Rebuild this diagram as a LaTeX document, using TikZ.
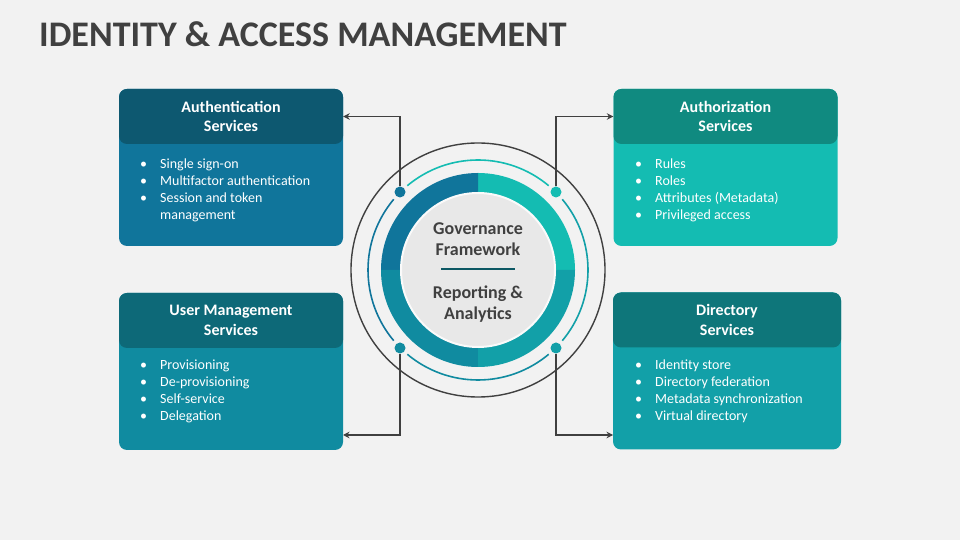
\documentclass[tikz,border=0pt]{standalone}
\usepackage{fontspec}
\setmainfont{Carlito}
\usetikzlibrary{arrows.meta,positioning,calc}

\definecolor{bgcol}{RGB}{242,242,242}
\definecolor{ink}{RGB}{64,64,64}
\definecolor{authHead}{RGB}{13,88,112}
\definecolor{authBody}{RGB}{16,117,155}
\definecolor{azHead}{RGB}{16,138,128}
\definecolor{azBody}{RGB}{20,188,178}
\definecolor{umHead}{RGB}{13,105,120}
\definecolor{umBody}{RGB}{16,139,160}
\definecolor{dirHead}{RGB}{14,118,122}
\definecolor{dirBody}{RGB}{18,160,168}
\definecolor{diskcol}{RGB}{232,232,232}
\definecolor{rulecol}{RGB}{13,88,100}

\tikzset{
  panel/.style={rounded corners=8pt, minimum width=224pt, minimum height=157pt, inner sep=0pt},
  panelhead/.style={rounded corners=8pt, minimum width=224pt, minimum height=55pt, inner sep=0pt,
    text=white, align=center, font=\fontsize{16}{19.5}\selectfont\bfseries},
  items/.style={anchor=north west, text=white, inner sep=0pt, align=left,
    font=\fontsize{14}{17}\selectfont},
  conn/.style={draw=ink, line width=1.6pt, -{Stealth[length=6.5pt,width=6.5pt]}},
  dot/.style={circle, inner sep=0pt, minimum size=11pt},
  thinarc/.style={line width=1.6pt},
  hubtext/.style={text=ink, align=center, font=\fontsize{18}{20.5}\selectfont\bfseries},
}
\newcommand{\bulletlist}[1]{\begin{tabular}{@{}p{20pt}@{}l@{}}#1\end{tabular}}

\begin{document}
\begin{tikzpicture}[x=1pt,y=1pt]
  \useasboundingbox[fill=bgcol] (0,0) rectangle (960,540);

  % title
  \node[anchor=west, text=ink, font=\fontsize{36}{40}\selectfont\bfseries, inner sep=0pt]
    (title) at (39,506) {IDENTITY \& ACCESS MANAGEMENT};

  % panels
  \node[panel, fill=authBody] (auth) at (231,372.5) {};
  \node[panelhead, fill=authHead, below=0pt of auth.north] (authH) {Authentication\\Services};
  \node[items] (authL) at (140,384) {\bulletlist{%
    \textbullet & Single sign-on\\
    \textbullet & Multifactor authentication\\
    \textbullet & Session and token\\
                & management}};

  \node[panel, fill=azBody] (az) at (725.5,372.5) {};
  \node[panelhead, fill=azHead, below=0pt of az.north] (azH) {Authorization\\Services};
  \node[items] (azL) at (635,384) {\bulletlist{%
    \textbullet & Rules\\
    \textbullet & Roles\\
    \textbullet & Attributes (Metadata)\\
    \textbullet & Privileged access}};

  \node[panel, fill=umBody] (um) at (231,168.5) {};
  \node[panelhead, fill=umHead, below=0pt of um.north] (umH) {User Management\\Services};
  \node[items] (umL) at (140,183) {\bulletlist{%
    \textbullet & Provisioning\\
    \textbullet & De-provisioning\\
    \textbullet & Self-service\\
    \textbullet & Delegation}};

  \node[panel, fill=dirBody, minimum width=228pt] (dir) at (727,169) {};
  \node[panelhead, fill=dirHead, minimum width=228pt, below=0pt of dir.north] (dirH) {Directory\\Services};
  \node[items] (dirL) at (635,183) {\bulletlist{%
    \textbullet & Identity store\\
    \textbullet & Directory federation\\
    \textbullet & Metadata synchronization\\
    \textbullet & Virtual directory}};

  % central wheel
  \coordinate (C) at (478,270);
  \draw[ink, line width=1.4pt] (C) circle (127);
  \draw[thinarc, azBody]   ($(C)+(50:110)$)  arc (50:130:110);
  \draw[thinarc, authBody] ($(C)+(140:110)$) arc (140:220:110);
  \draw[thinarc, umBody]   ($(C)+(230:110)$) arc (230:310:110);
  \draw[thinarc, dirBody]  ($(C)+(320:110)$) arc (320:400:110);

  \fill[azBody]   ($(C)+(0:97)$)   arc (0:90:97)    -- ($(C)+(90:77)$)  arc (90:0:77)    -- cycle;
  \fill[authBody] ($(C)+(90:97)$)  arc (90:180:97)  -- ($(C)+(180:77)$) arc (180:90:77)  -- cycle;
  \fill[umBody]   ($(C)+(180:97)$) arc (180:270:97) -- ($(C)+(270:77)$) arc (270:180:77) -- cycle;
  \fill[dirBody]  ($(C)+(270:97)$) arc (270:360:97) -- ($(C)+(0:77)$)   arc (360:270:77) -- cycle;
  \draw[fill=diskcol, draw=white!96!gray, line width=2pt] (C) circle (77);

  \node[hubtext] (gov) at (478,301) {Governance\\Framework};
  \node[hubtext] (rep) at (478,236) {Reporting \&\\Analytics};
  \draw[rulecol, line width=2pt] (441,271) -- (515,271);

  % dots and connectors
  \node[dot, fill=authBody] (dTL) at (400,348) {};
  \node[dot, fill=azBody]   (dTR) at (556,348) {};
  \node[dot, fill=umBody]   (dBL) at (400,192) {};
  \node[dot, fill=dirBody]  (dBR) at (556,192) {};

  \coordinate (umIn)  at (343,105);
  \coordinate (dirIn) at (613,105);

  \draw[conn] (dTL.north) |- (authH.east);
  \draw[conn] (dTR.north) |- (azH.west);
  \draw[conn] (dBL.south) |- (umIn);
  \draw[conn] (dBR.south) |- (dirIn);
\end{tikzpicture}
\end{document}
